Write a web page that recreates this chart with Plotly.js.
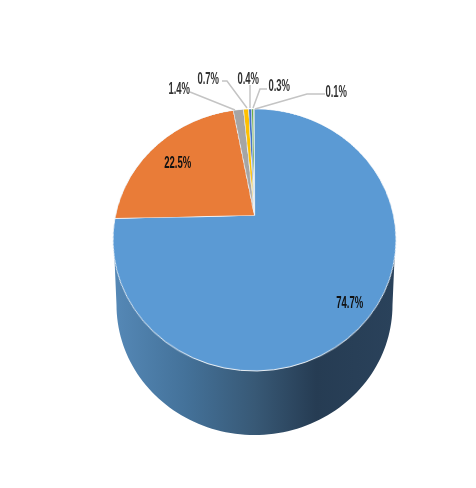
<!DOCTYPE html>
<html><head><meta charset="utf-8">
<script src="https://cdn.plot.ly/plotly-3.0.1.min.js"></script>
<style>
html,body{margin:0;padding:0;background:#fff;width:476px;height:488px;overflow:hidden}
.layer{position:absolute;left:0;top:0}
</style></head><body>
<div id="side" class="layer" style="width:476px;height:488px"></div>
<div id="pie" class="layer" style="width:400px;height:400px;transform-origin:0 0"></div>
<div id="labels" class="layer" style="width:476px;height:488px"></div>
<script>
const sliceValues = [74.7, 22.5, 1.4, 0.7, 0.4, 0.3, 0.1];
const sliceNames  = ['A','B','C','D','E','F','G'];
const sliceColors = ['#5B9AD4','#E97C38','#A5A5A5','#FFC000','#4472C4','#70AD47','#255E91'];
const labelX = [349, 177, 179, 208, 248, 279, 336];
const labelY = [302, 162, 88, 78, 78, 85, 91];
const leaderX = [null, null, [190,235], [222,227,247], [250,250], [267,260,253], [325,307,255]];
const leaderY = [null, null, [92,110], [81,81,108], [85,108], [89,89,108], [94,94,109]];

const px = {l:0,r:0,t:0,b:0,pad:0};
const pixelAxes = {
  xaxis:{range:[0,476],visible:false,fixedrange:true},
  yaxis:{range:[488,0],visible:false,fixedrange:true}
};

// cylinder wall
const cx=254.5, topCy=240, topRx=141.5, topRy=131, botCy=305, botRx=138, botRy=130;
const sx=[], sy=[];
sx.push(cx+topRx*0.99); sy.push(topCy+17);
for(let d=0;d<=180;d+=2){ const t=d*Math.PI/180; sx.push(cx+botRx*Math.cos(t)); sy.push(botCy+botRy*Math.sin(t)); }
sx.push(cx-topRx*0.99); sy.push(topCy+17);
sx.push(cx); sy.push(topCy);
Plotly.newPlot('side',[{
  type:'scatter',mode:'none',x:sx,y:sy,fill:'toself',hoverinfo:'skip',
  fillgradient:{type:'horizontal',colorscale:[[0,'#5588B6'],[0.25,'#44729A'],[0.5,'#385976'],[0.72,'#263C53'],[1,'#2A425B']]}
}],Object.assign({width:476,height:488,margin:px,showlegend:false,paper_bgcolor:'#fff',plot_bgcolor:'#fff'},pixelAxes),{staticPlot:true});

// top face: a real pie, tilted in perspective
const S=400, R=190, c=S/2, apexY=215.5, k=-0.187, a=139, b=126.4;
const m=[a/R,0,0,0, cx*k/R,(apexY*k+b)/R,0,k/R, 0,0,1,0,
  cx-cx*k*c/R-a*c/R, apexY-(apexY*k+b)*c/R, 0, 1-k*c/R];
Plotly.newPlot('pie',[{
  type:'pie',values:sliceValues,labels:sliceNames,sort:false,direction:'clockwise',rotation:0,
  textinfo:'none',hoverinfo:'skip',
  marker:{colors:sliceColors,line:{color:'#EDF2F7',width:1}},
  domain:{x:[0.025,0.975],y:[0.025,0.975]}
}],{width:S,height:S,margin:px,showlegend:false,paper_bgcolor:'rgba(0,0,0,0)'},{staticPlot:true});
document.getElementById('pie').style.transform='matrix3d('+m.join(',')+')';

// labels and leader lines
const leaders=[];
leaderX.forEach((lx,i)=>{ if(lx) leaders.push({type:'scatter',mode:'lines',x:lx,y:leaderY[i],hoverinfo:'skip',line:{color:'#C4C4C4',width:1.5}}); });
const notes=sliceValues.map((v,i)=>({
  x:labelX[i],y:labelY[i],xref:'x',yref:'y',showarrow:false,text:v.toFixed(1)+'%',
  font:{family:'"Liberation Sans",sans-serif',size:16,color:i<2?'#111':'#333',weight:700}
}));
Plotly.newPlot('labels',leaders,Object.assign({width:476,height:488,margin:px,showlegend:false,
  paper_bgcolor:'rgba(0,0,0,0)',plot_bgcolor:'rgba(0,0,0,0)',annotations:notes},pixelAxes),{staticPlot:true}).then(()=>{
  // the reference's labels are horizontally condensed
  document.querySelectorAll('#labels .annotation-text').forEach(t=>{
    const n=t.textContent.length;
    t.setAttribute('textLength', n*5.4);
    t.setAttribute('lengthAdjust','spacingAndGlyphs');
  });
});
</script></body></html>
